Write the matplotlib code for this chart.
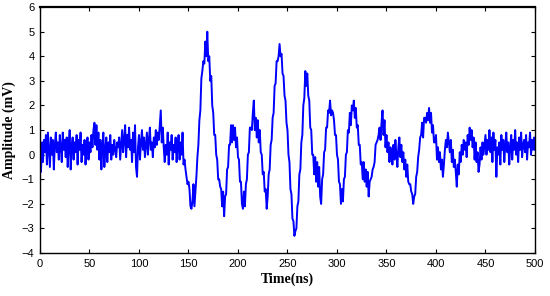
import numpy as np
import matplotlib
import matplotlib.pyplot as plt

matplotlib.use("Agg")

# amplitude (mV), one sample per ns, 0..500 ns
amplitude = [
	0.2, -0.7, 0.5, -0.3, 0.6, 0.1, 0.8, -0.4, 0.9, 0.2,
	-0.5, 0.7, 0.0, 0.6, -0.6, 0.4, 0.9, 0.1, 0.5, -0.2,
	0.8, 0.3, -0.3, 0.9, 0.2, 0.6, -0.1, 0.7, -0.5, 0.4,
	1.0, -0.6, 0.3, 0.7, -0.2, 0.5, 0.1, 0.8, -0.4, 0.6,
	0.2, 0.9, -0.3, 0.4, 0.0, 0.6, -0.4, 0.3, 0.7, -0.2,
	0.5, 0.1, 0.8, 0.3, 1.0, 1.3, 0.4, 1.2, 0.2, 0.9,
	-0.2, 0.6, -0.6, 0.3, 0.9, -0.5, 0.2, 0.7, -0.3, 0.5,
	0.1, 0.8, -0.2, 0.4, 0.0, 0.6, 0.2, -0.1, 0.5, 0.3,
	0.7, -0.2, 0.4, 1.0, 0.1, 0.6, 1.2, -0.1, 0.8, 0.3,
	1.1, 0.2, 0.6, -0.3, 0.9, 0.1, 1.2, -0.5, -0.9, 0.3,
	0.8, -0.2, 0.5, 1.0, 0.2, 0.7, -0.1, 0.4, 0.9, 0.0,
	0.6, 1.1, 0.2, 0.5, -0.1, 0.7, 0.3, 1.0, 0.4, 0.9,
	0.6, 1.2, 1.8, 0.5, 1.1, 0.3, -0.3, 0.4, 0.0, 0.9,
	-0.4, 0.5, 0.2, 0.8, -0.2, 0.4, 0.1, 0.7, -0.3, 0.3,
	0.8, -0.2, 0.5, 0.0, 0.9, -0.4, -0.2, -0.6, -0.9, -1.2,
	-1.1, -1.4, -2.1, -2.2, -1.9, -1.2, -2.1, -1.5, -0.9, -0.1,
	0.4, 1.4, 1.8, 3.1, 3.4, 3.8, 3.7, 4.6, 4.0, 5.0,
	3.8, 4.0, 3.0, 3.2, 2.0, 1.7, 0.8, 0.8, 0.0, -0.2,
	-1.0, -1.0, -1.3, -1.4, -2.1, -1.5, -2.5, -1.7, -1.6, -0.6,
	-0.5, 0.4, 0.4, 1.2, 0.5, 1.2, 0.6, 1.1, 0.3, 0.7,
	-0.1, -0.2, -1.1, -1.1, -2.0, -2.2, -1.5, -2.1, -1.2, -1.0,
	0.0, 0.1, 1.1, 1.1, 1.0, 1.7, 2.2, 1.0, 1.5, 0.7,
	1.4, 0.5, 1.0, 0.1, 0.0, -0.8, -0.7, -1.5, -1.4, -2.2,
	-1.7, -0.8, -0.6, 0.4, 0.6, 1.5, 1.7, 2.8, 2.9, 3.8,
	3.8, 4.0, 4.5, 4.0, 4.1, 3.3, 3.2, 2.4, 2.2, 1.3,
	1.0, 0.0, -0.3, -1.4, -1.6, -2.6, -2.7, -3.3, -3.1, -3.0,
	-2.1, -1.9, -0.8, -0.6, 0.5, 0.8, 2.0, 2.3, 3.4, 2.8,
	3.3, 2.4, 2.2, 1.1, 1.0, 0.0, 0.0, -0.8, -0.1, -1.1,
	-0.3, -1.3, -0.5, -1.7, -2.0, -1.0, -0.8, 0.1, 0.2, 1.1,
	1.1, 1.8, 1.7, 2.2, 1.6, 1.8, 1.7, 1.4, 0.8, 0.8,
	0.0, -0.2, -1.1, -1.2, -2.0, -1.4, -1.9, -1.0, -0.9, 0.0,
	0.1, 1.0, 0.9, 1.7, 1.2, 2.0, 1.8, 2.2, 1.5, 1.9,
	1.1, 1.2, 0.4, 0.4, -0.4, -0.3, -1.0, -0.3, -1.1, -0.6,
	-1.3, -0.7, -1.7, -1.1, -1.0, -0.9, -0.6, -0.5, -0.3, 0.4,
	0.5, 0.6, 0.8, 1.1, 0.6, 1.3, 1.8, 0.8, 1.4, 0.3,
	0.8, 0.1, 0.5, -0.3, 0.3, 0.0, -0.4, 0.4, -0.2, 0.6,
	0.0, -0.5, 0.3, 0.7, -0.1, 0.4, -0.3, 0.1, -0.6, -0.2,
	-0.9, -0.4, -1.1, -1.2, -1.2, -1.5, -1.6, -2.0, -1.7, -1.6,
	-0.9, -0.7, -0.1, 0.2, 0.7, 0.8, 1.3, 0.7, 1.5, 1.5,
	1.3, 1.7, 1.4, 1.9, 1.3, 1.7, 0.9, 1.2, 0.5, 0.5,
	0.8, -0.2, 0.3, -0.3, 0.1, -0.6, -0.2, -0.9, -0.4, 0.2,
	0.6, 0.3, 0.9, 0.5, 0.1, 0.6, -0.3, 0.2, -0.5, -0.2,
	-0.7, -1.3, -0.4, -0.8, 0.1, -0.3, 0.4, 0.0, 0.6, 0.2,
	0.5, -0.1, 0.8, 0.4, 1.1, 0.6, 1.0, 0.3, 0.7, -0.2,
	0.5, -0.3, 0.1, -0.7, -0.4, 0.3, -0.2, 0.5, 0.0, 0.4,
	0.8, 0.0, 0.6, 0.2, 1.0, 0.1, 0.7, -0.3, 0.9, 0.2,
	0.6, -0.9, 0.3, 0.0, 0.5, -0.4, 0.8, 0.2, 0.6, -0.3,
	0.4, 0.9, 0.1, 0.5, -0.4, 0.3, 0.8, -0.2, 0.6, 0.2,
	1.0, 0.0, 0.5, -0.3, 0.7, 0.2, 0.9, -0.1, 0.4, 0.6,
	0.1, 0.8, -0.2, 0.5, 0.3, 0.9, 0.0, 0.6, 0.2, 0.7,
	0.2,
]
time_ns = np.arange(len(amplitude))

x_ticks = list(range(0, 501, 50))
y_ticks = list(range(-4, 7))

fig = plt.figure(figsize=(5.5, 2.96), dpi=100)
ax = fig.add_axes([0.0727, 0.145, 0.9, 0.831])
ax.plot(time_ns, amplitude, color="#0000ff", linewidth=1.4)

ax.set_xlim(0, 500)
ax.set_ylim(-4, 6)
ax.set_xticks(x_ticks)
ax.set_yticks(y_ticks)
ax.tick_params(direction="in", top=True, right=True, length=3, width=0.8,
	labelsize=8, pad=4)
for label in ax.get_xticklabels() + ax.get_yticklabels():
	label.set_family("Liberation Sans")
for side in ax.spines.values():
	side.set_linewidth(1.0)
ax.spines["top"].set_linewidth(1.6)

ax.set_xlabel("Time(ns)", family="Liberation Serif", fontweight="bold", fontsize=10, labelpad=3)
ax.set_ylabel("Amplitude (mV)", family="Liberation Serif", fontweight="bold", fontsize=10, labelpad=4)

fig.savefig("out.png", dpi=100)
